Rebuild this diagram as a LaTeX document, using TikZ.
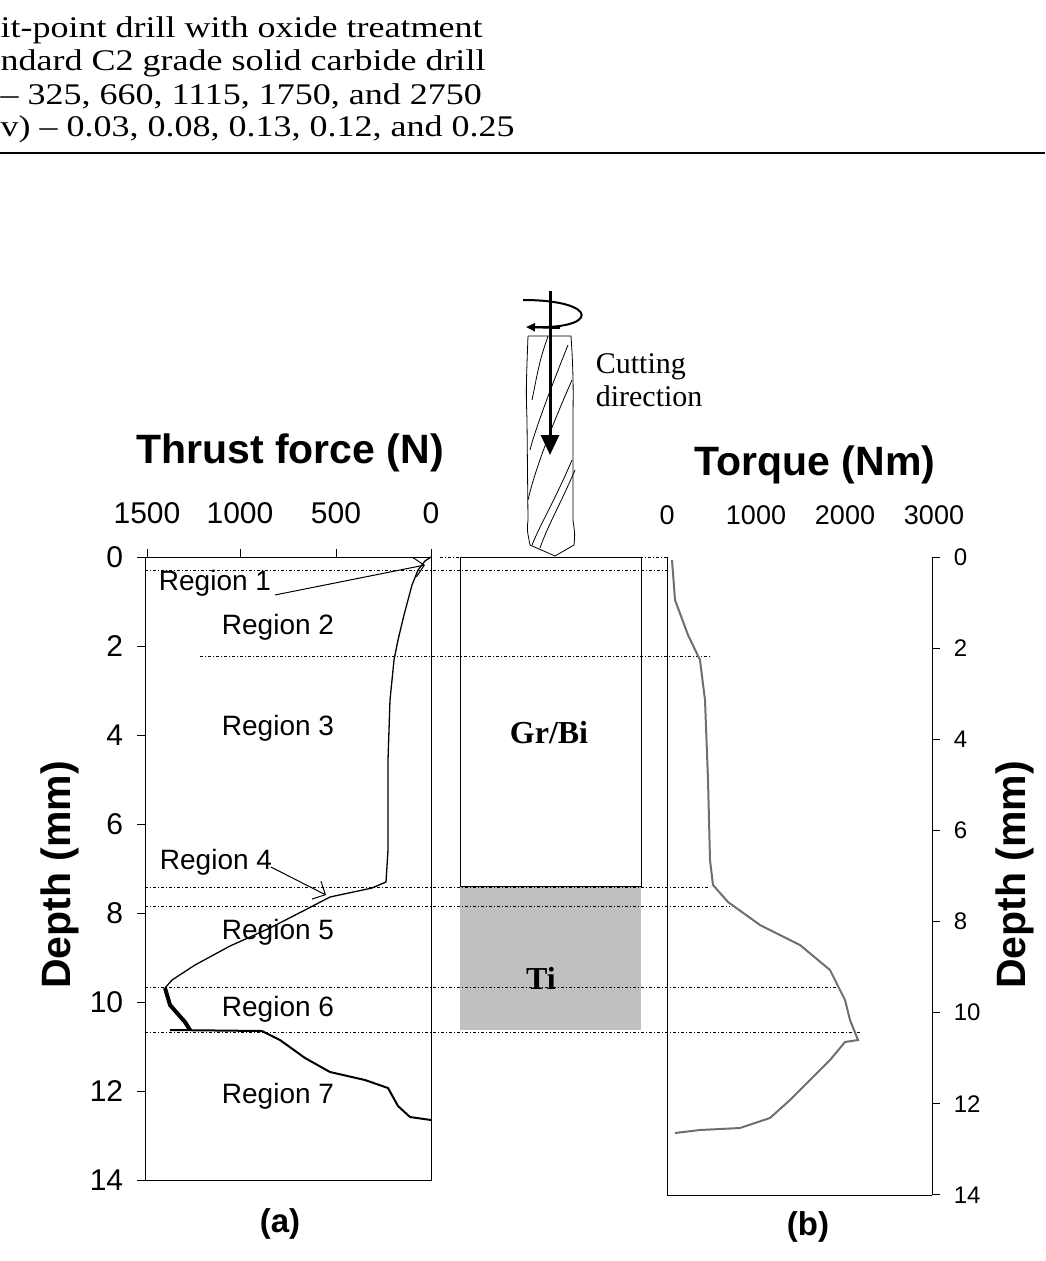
\documentclass[tikz,border=0pt]{standalone}
\usepackage{fontspec}
\setmainfont{Liberation Serif}
\setsansfont{Liberation Sans}
\usetikzlibrary{arrows,arrows.meta}
\usetikzlibrary{calc}
\definecolor{tigrau}{RGB}{192,192,192}
\definecolor{kurve}{RGB}{110,110,110}
\tikzset{
  region/.style={font=\sffamily\fontsize{28}{32}\selectfont},
  ticklab/.style={font=\sffamily\fontsize{30}{34}\selectfont},
  axtitle/.style={font=\sffamily\bfseries\fontsize{41}{46}\selectfont},
  strich/.style={dash dot, thin},
  kopf/.style={font=\rmfamily\fontsize{30}{33}\selectfont, anchor=west, xscale=1.2, inner sep=0pt},
}
\begin{document}
\begin{tikzpicture}[x=1pt,y=-1pt, line width=1pt]
    \useasboundingbox (0,0) rectangle (1045,1261);

    % Kopfzeilen
    \node[kopf] (K1) at (0,30) {it-point drill with oxide treatment};
    \node[kopf] (K2) at (0,63) {ndard C2 grade solid carbide drill};
    \node[kopf] (K3) at (0,96) {-- 325, 660, 1115, 1750, and 2750};
    \node[kopf] (K4) at (0,129) {v) -- 0.03, 0.08, 0.13, 0.12, and 0.25};
    \draw[line width=1.2pt] (0,153) -- (1045,153);

    % Materialbloecke
    \fill[tigrau] (460,886) rectangle (641,1030);
    \draw[thick] (460,557) rectangle (641,886);
    \node[font=\rmfamily\bfseries\fontsize{32}{36}\selectfont] (GB) at (549,733) {Gr/Bi};
    \node[font=\rmfamily\bfseries\fontsize{32}{36}\selectfont] (Ti) at (541,978) {Ti};

    % Diagramm (a)
    \draw (145,557) -- (431,557) -- (431,1180) -- (145,1180) -- cycle;
    \foreach \d in {0,2,...,14}{
            \draw (137,557+44.5*\d) -- (145,557+44.5*\d);
            \node[ticklab, anchor=east] at (127,557+44.5*\d) {\d};
        }
    \foreach \f/\x in {1500/147, 1000/240, 500/336, 0/431}{
            \draw (\x,557) -- (\x,549);
            \node[ticklab] at (\x,513) {\f};
        }
    \node[axtitle] (TF) at (290,453) {Thrust force (N)};
    \node[axtitle, rotate=90] (DL) at (60,875) {Depth (mm)};
    \node[font=\sffamily\bfseries\fontsize{33}{36}\selectfont] (A) at (280,1224) {(a)};

    % Diagramm (b)
    \draw (667,557) -- (667,1195) -- (932,1195);
    \draw (932,557) -- (932,1195);
    \foreach \d in {0,2,...,14}{
            \draw (932,557+45.57*\d) -- (940,557+45.57*\d);
            \node[font=\sffamily\fontsize{24}{28}\selectfont, anchor=west] at (950,557+45.57*\d) {\d};
        }
    \foreach \m/\x in {0/667, 1000/756, 2000/845, 3000/934}{
            \node[font=\sffamily\fontsize{27}{30}\selectfont] at (\x,515) {\m};
        }
    \node[axtitle] (TQ) at (815,465) {Torque (Nm)};
    \node[axtitle, rotate=90] (DR) at (1015,875) {Depth (mm)};
    \node[font=\sffamily\bfseries\fontsize{33}{36}\selectfont] (B) at (808,1227) {(b)};

    % Trennlinien
    \draw[strich] (440,557) -- (667,557);
    \draw[strich] (145,570) -- (667,570);
    \draw[strich] (200,656) -- (710,656);
    \draw[strich] (145,887) -- (710,887);
    \draw[strich] (145,906) -- (730,906);
    \draw[strich] (145,987) -- (840,987);
    \draw[strich] (145,1032) -- (860,1032);

    % Schubkraft
    \draw[line width=1.3pt] (431,557) -- (425,561) -- (418,570) -- (412,585) -- (404,615)
    -- (398,640) -- (394,660) -- (390,700) -- (388,760) -- (388,850) -- (386,882)
    -- (372,888) -- (330,897) -- (305,910) -- (270,928) -- (230,946) -- (195,965)
    -- (172,980) -- (165,988);
    \draw[line width=4pt] (165,988) -- (170,1005) -- (185,1022) -- (190,1030);
    \draw[line width=2pt] (170,1030) -- (262,1031) -- (280,1040) -- (305,1058)
    -- (330,1072) -- (365,1080) -- (388,1088) -- (398,1106) -- (410,1117) -- (431,1120);

    % Drehmoment
    \draw[kurve, line width=2pt] (672,560) -- (675,600) -- (688,635) -- (700,660)
    -- (705,700) -- (708,780) -- (710,860) -- (713,885) -- (728,902) -- (760,925)
    -- (800,945) -- (830,970) -- (845,1000) -- (850,1020) -- (858,1040) -- (845,1042)
    -- (830,1060) -- (810,1080) -- (790,1100) -- (770,1118) -- (740,1128) -- (700,1130)
    -- (675,1133);

    % Bereiche
    \node[region] (R1) at (215,583) {Region 1};
    \node[region] (R2) at (278,627) {Region 2};
    \node[region] (R3) at (278,728) {Region 3};
    \node[region] (R4) at (216,862) {Region 4};
    \node[region] (R5) at (278,932) {Region 5};
    \node[region] (R6) at (278,1009) {Region 6};
    \node[region] (R7) at (278,1096) {Region 7};
    \coordinate (P1) at (425,565);
    \coordinate (P4) at (326,895);
    \draw[-{Straight Barb[length=10pt]}] (R1.east) ++(0,12) -- (P1);
    \draw[-{Straight Barb[length=10pt]}] (R4.east) ++(-5,5) -- (P4);

    % Bohrer
    \draw[thick, fill=white] (528,336) -- (571,336) .. controls (574,380) and (573,400) .. (573,420)
    -- (573,520) .. controls (575,535) .. (574,545) -- (555,556) -- (530,545)
    .. controls (527,530) .. (528,520) -- (527,420) .. controls (526,390) .. (528,336);
    \draw[thick] (548,336) .. controls (540,360) .. (532,400);
    \draw[thick] (572,380) .. controls (550,430) and (535,470) .. (528,500);
    \draw[thick] (568,345) .. controls (550,390) and (535,430) .. (530,450);
    \draw[thick] (572,460) .. controls (555,500) and (540,525) .. (532,545);
    \draw[thick] (575,470) .. controls (560,505) and (548,525) .. (540,548);
    \draw[line width=2pt] (523,300) .. controls (600,300) and (600,330) .. (530,327);
    \draw[-{Triangle[open, length=9pt, width=8pt]}, line width=2pt] (560,328) -- (526,327);
    \draw[line width=3pt, -{Triangle[length=20pt, width=18pt]}] (550,291) -- (550,455);
    \node[font=\rmfamily\fontsize{30}{33}\selectfont, align=left, anchor=west] (CD) at (592,380) {Cutting\\direction};

\end{tikzpicture}
\end{document}
